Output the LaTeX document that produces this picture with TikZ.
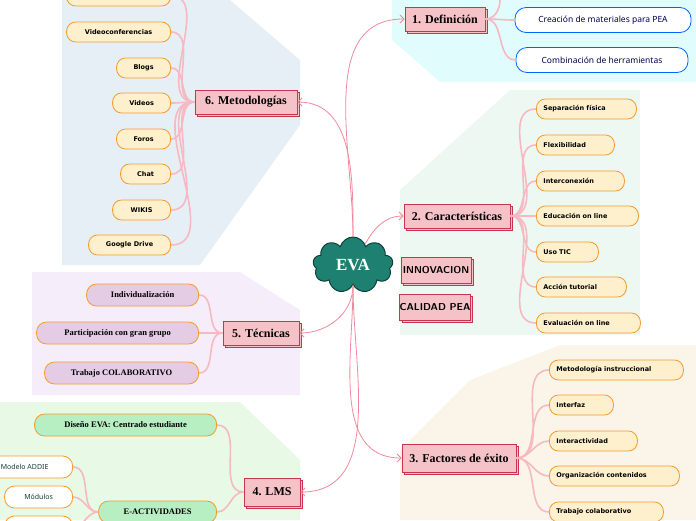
\documentclass[tikz,border=0pt]{standalone}
\usepackage{fontspec}
\setmainfont{DejaVu Sans}
\newfontfamily\headf{Liberation Serif}
\newfontfamily\notof{Noto Sans}
\usetikzlibrary{shapes.symbols,arrows.meta,shadows}
\definecolor{pinkc}{HTML}{F08A9A}
\definecolor{headfill}{HTML}{F5C2C7}
\definecolor{headdraw}{HTML}{C8364E}
\definecolor{itemfill}{HTML}{FEF0CD}
\definecolor{itemdraw}{HTML}{F59A2E}
\definecolor{teal}{HTML}{1E8070}
\tikzset{
 x=1pt,y=-1pt,
 head/.style={draw=headdraw,fill=headfill,line width=0.9pt,font=\headf\bfseries\fontsize{12}{13}\selectfont,inner sep=0pt,minimum height=24pt,
   copy shadow={shadow xshift=2.5pt,shadow yshift=-2.5pt,fill=headfill,draw=headdraw}},
 item/.style={draw=itemdraw,fill=itemfill,rounded corners=9pt,line width=0.8pt,font=\bfseries\fontsize{6.5}{7}\selectfont,minimum height=20pt,inner sep=0pt},
 blue/.style={draw=blue!60!cyan,fill=white,rounded corners=11pt,line width=0.8pt,font=\notof\fontsize{8.5}{9}\selectfont,text=blue!30!black,minimum height=25pt,inner sep=0pt},
 lil/.style={draw=itemdraw,fill=violet!20,rounded corners=10pt,line width=0.8pt,font=\headf\bfseries\fontsize{8.5}{9}\selectfont,minimum height=22pt,inner sep=0pt},
 grn/.style={draw=itemdraw,fill=green!55!teal!30,rounded corners=10pt,line width=0.8pt,font=\headf\bfseries\fontsize{8.5}{9}\selectfont,minimum height=22pt,inner sep=0pt},
 wit/.style={draw=itemdraw,fill=white,rounded corners=10pt,line width=0.8pt,font=\notof\fontsize{7}{8}\selectfont,text=teal!50!black,minimum height=22pt,inner sep=0pt},
 main/.style={pinkc,line width=0.8pt,-{Straight Barb[length=4pt]}},
 sub/.style={pinkc!60,line width=1.6pt},
}
\definecolor{bgdef}{HTML}{E0FCFC}
\definecolor{bgcar}{HTML}{EEF8F2}
\definecolor{bgfac}{HTML}{FAF5E8}
\definecolor{bgmet}{HTML}{E6EFF5}
\definecolor{bgtec}{HTML}{F5EEFA}
\definecolor{bglms}{HTML}{E8FAE6}
\begin{document}
\begin{tikzpicture}
\useasboundingbox (0,0) rectangle (696,520);
% backgrounds
\fill[bgdef] (392,0) -- (696,0) -- (696,82) -- (440,82) -- (392,40) -- cycle;
\fill[bgcar] (510,90) -- (640,90) -- (640,335) -- (400,335) -- (400,190) -- cycle;
\fill[bgfac] (560,345) -- (696,345) -- (696,520) -- (400,520) -- (400,450) -- (470,380) -- cycle;
\fill[bgmet] (62,0) -- (230,0) -- (300,60) -- (300,125) -- (200,265) -- (62,265) -- cycle;
\fill[bgtec] (32,272) -- (240,272) -- (300,310) -- (300,395) -- (32,395) -- cycle;
\fill[bglms] (0,402) -- (240,402) -- (300,460) -- (300,520) -- (0,520) -- cycle;

\node[cloud,cloud puffs=9,aspect=1.5,fill=teal,draw=teal!50!black,line width=1pt,minimum width=80pt,minimum height=56pt,text=white,font=\headf\bfseries\fontsize{17}{18}\selectfont] (eva) at (353,265) {EVA};

\node[head,minimum width=80pt] (h1) at (445,19) {1. Definición};
\node[head,minimum width=106pt] (h2) at (457,216) {2. Características};
\node[head,minimum width=114pt,minimum height=28pt] (h3) at (459,458) {3. Factores de éxito};
\node[head,minimum width=56pt,minimum height=28pt] (h4) at (272,492) {4. LMS};
\node[head,minimum width=76pt] (h5) at (261,333) {5. Técnicas};
\node[head,minimum width=102pt] (h6) at (246,102) {6. Metodologías};
\node[head,minimum width=70pt,minimum height=26pt,font=\sffamily\bfseries\fontsize{10}{11}\selectfont] (inn) at (436,270) {INNOVACION};
\node[head,minimum width=70pt,minimum height=26pt,font=\sffamily\bfseries\fontsize{10}{11}\selectfont] (cal) at (435,307) {CALIDAD PEA};

\draw[main] (eva.north) to[out=90,in=180] (h1.west);
\draw[main] (eva.60) to[out=60,in=180] (h2.west);
\draw[main] (eva.south) to[out=-90,in=180] (h3.west);
\draw[main] (eva.south) to[out=-90,in=0] (h4.east);
\draw[main] (eva.south) to[out=-90,in=0] (h5.east);
\draw[main] (eva.north) to[out=90,in=0] (h6.east);

% 1
\node[blue,minimum width=176pt] (d1) at (603,20) {Creación de materiales para PEA};
\node[blue,minimum width=172pt] (d2) at (602,60) {Combinación de herramientas};
\coordinate (d0) at (500,0);
\foreach \c in {d1,d2} \draw[sub] (h1.east) to[out=0,in=180] (\c.west);
\draw[sub] (h1.east) to[out=0,in=-90] (d0);
% 2
\foreach \t/\w/\y [count=\i] in {Separación física/100/109,Flexibilidad/78/145,Interconexión/88/181,Educación on line/102/216,Uso TIC/62/252,Acción tutorial/90/287,Evaluación on line/104/323}
 {\node[item,minimum width=\w pt,anchor=west,text width=\w pt-14pt,align=left] (c\i) at (536,\y) {\t};
  \draw[sub] (h2.east) to[out=0,in=180] (c\i.west);}
% 3
\foreach \t/\w/\y [count=\i] in {Metodología instruccional/134/370,Interfaz/64/405,Interactividad/88/441,Organización contenidos/130/476,Trabajo colaborativo/114/512}
 {\node[item,minimum width=\w pt,anchor=west,text width=\w pt-14pt,align=left] (f\i) at (549,\y) {\t};
  \draw[sub] (h3.east) to[out=0,in=180] (f\i.west);}
% 6
\foreach \t/\w/\y [count=\i] in {{}/104/-4,Videoconferencias/104/32,Blogs/54/68,Videos/58/103,Foros/54/139,Chat/50/174,WIKIS/58/210,Google Drive/82/245}
 {\node[item,minimum width=\w pt,anchor=east] (m\i) at (171,\y) {\t};
  \draw[sub] (h6.west) to[out=180,in=0] (m\i.east);}
% 5
\node[lil,minimum width=112pt,anchor=east] (t1) at (199,295) {Individualización};
\node[lil,minimum width=162pt,anchor=east] (t2) at (199,333) {Participación con gran grupo};
\node[lil,minimum width=154pt,anchor=east] (t3) at (199,373) {Trabajo COLABORATIVO};
\foreach \c in {t1,t2,t3} \draw[sub] (h5.west) to[out=180,in=0] (\c.east);
% 4
\node[grn,minimum width=182pt,anchor=east] (l1) at (217,425) {Diseño EVA: Centrado estudiante};
\node[grn,minimum width=118pt,anchor=east] (l2) at (217,512) {E-ACTIVIDADES};
\foreach \c in {l1,l2} \draw[sub] (h4.west) to[out=180,in=0] (\c.east);
\node[wit,minimum width=96pt,anchor=east] (a1) at (73,467) {Modelo ADDIE};
\node[wit,minimum width=68pt,anchor=east] (a2) at (73,497) {Módulos};
\node[wit,minimum width=68pt,anchor=east] (a3) at (73,527) {};
\foreach \c in {a1,a2,a3} \draw[sub] (l2.west) to[out=180,in=0] (\c.east);
\end{tikzpicture}
\end{document}
